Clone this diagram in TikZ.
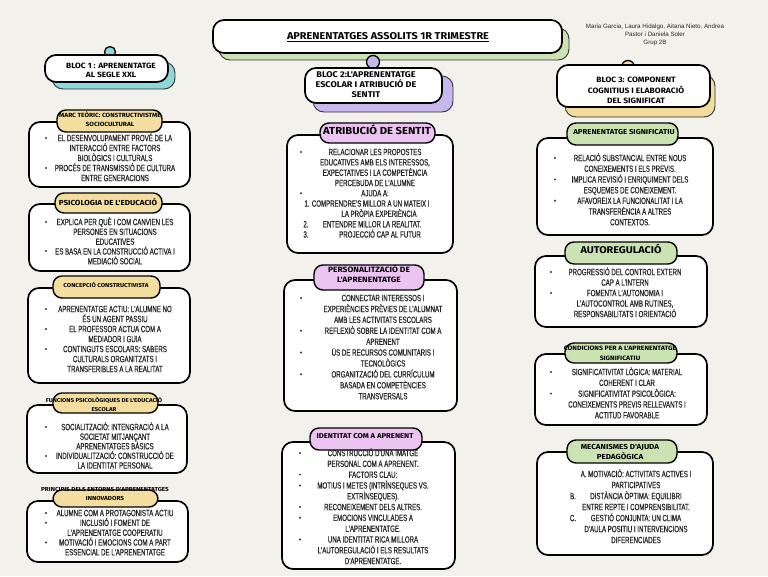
\documentclass[tikz,border=0pt]{standalone}
\usepackage{fontspec}
\setmainfont{Liberation Sans}
\newfontfamily\bodyf{Liberation Sans}[FakeStretch=0.68,FakeBold=0.5]
\newfontfamily\handf{Fira Sans}[FakeStretch=1.1]
\newfontfamily\authf{Liberation Sans}
\definecolor{cBg}{RGB}{243,241,236}
\definecolor{cYel}{RGB}{243,222,160}
\definecolor{cYelB}{RGB}{242,220,155}
\definecolor{cTeal}{RGB}{143,216,216}
\definecolor{cPink}{RGB}{236,196,241}
\definecolor{cLav}{RGB}{198,184,236}
\definecolor{cGrn}{RGB}{203,227,179}
\tikzset{
  card/.style={draw=black, line width=1.7pt, fill=white, rounded corners=11pt},
  pill/.style={draw=black, line width=1.4pt, rounded corners=9pt},
  shad/.style={draw=black!80, line width=0.9pt, rounded corners=11pt},
  knob/.style={draw=black, line width=1.3pt},
  body/.style={font=\bodyf\fontsize{9}{10}\selectfont, inner sep=0pt, text height=6.3pt, text depth=0pt, text=black!85},
  hs/.style={font=\handf\bfseries\fontsize{#1}{#1}\selectfont, inner sep=0pt, anchor=mid, text=black},
}
\newcommand{\blk}[6]{\foreach \t [count=\i from 0] in {#6} {\node[#5] (#1\i) at (#2,{#3+\i*#4}) {\t};}}
\newcommand{\bul}[2]{\fill[black!80] (#1,#2) circle (1.1pt);}
\begin{document}
\begin{tikzpicture}[x=1pt,y=-1pt]
\fill[cBg] (0,0) rectangle (768,576);
\useasboundingbox (0,0) rectangle (768,576);

% title
\draw[shad, fill=cGrn] (219,28) rectangle (569,60);
\draw[card] (213,20) rectangle (562,53);
\node[hs=9.9] (title) at (388,37) {\underline{APRENENTATGES ASSOLITS 1R TRIMESTRE}};
\node[font=\authf\fontsize{6.2}{8}\selectfont, align=center, text=black!85, inner sep=0pt] (auth) at (655,35) {Maria Garcia, Laura Hidalgo, Aitana Nieto, Andrea\\Pastor i Daniela Soler\\Grup 2B};

% ---------------- BLOC 1 ----------------
\draw[knob, fill=cTeal] (110,52) circle (5.5);
\draw[shad, fill=cTeal] (52,62) rectangle (175,89);
\draw[card] (45,55) rectangle (168,82);
\blk{bA}{111}{66}{8.5}{hs=7.6}{{BLOC 1 : APRENENTATGE},{AL SEGLE XXL}}

% marc
\draw[card] (29,122) rectangle (190,187);
\draw[pill, fill=cYel] (57,110) rectangle (162,132);
\blk{mH}{110}{115}{9}{hs=6}{{MARC TEÒRIC: CONSTRUCTIVISTME},{SOCIOCULTURAL}}
\blk{mT}{115}{138}{10}{body}{{EL DESENVOLUPAMENT PROVÉ DE LA},{INTERACCIÓ ENTRE FACTORS},{BIOLÒGICS I CULTURALS},{PROCÉS DE TRANSMISSIÓ DE CULTURA},{ENTRE GENERACIONS}}
\bul{46}{138}\bul{46}{168}

% psicologia
\draw[card] (29,204) rectangle (190,271);
\draw[pill, fill=cYel] (55,193) rectangle (162,213);
\node[hs=7.3] (pH) at (108,203) {PSICOLOGIA DE L'EDUCACIÓ};
\blk{pT}{115}{222}{9.8}{body}{{EXPLICA PER QUÈ I COM CANVIEN LES},{PERSONES EN SITUACIONS},{EDUCATIVES},{ES BASA EN LA CONSTRUCCIÓ ACTIVA I},{MEDIACIÓ SOCIAL}}
\bul{46}{222}\bul{46}{251}

% concepcio
\draw[card] (28,288) rectangle (190,383);
\draw[pill, fill=cYel] (53,276) rectangle (160,298);
\node[hs=5.7] (cH) at (106,285) {CONCEPCIÓ CONSTRUCTIVISTA};
\blk{cT}{115}{309}{10}{body}{{APRENENTATGE ACTIU: L'ALUMNE NO},{ÉS UN AGENT PASSIU},{EL PROFESSOR ACTUA COM A},{MEDIADOR I GUIA},{CONTINGUTS ESCOLARS: SABERS},{CULTURALS ORGANITZATS I},{TRANSFERIBLES A LA REALITAT}}
\bul{46}{309}\bul{46}{329}\bul{46}{349}

% funcions
\draw[card] (27,405) rectangle (187,473);
\draw[pill, fill=cYel] (53,393) rectangle (158,413);
\blk{fH}{104}{400}{8.5}{hs=5.6}{{FUNCIONS PSICOLÒGIQUES DE L'EDUCACIÓ},{ESCOLAR}}
\blk{fT}{115}{427}{9.6}{body}{{SOCIALITZACIÓ:  INTENGRACIÓ A LA},{SOCIETAT MITJANÇANT},{APRENENTATGES BÀSICS},{INDIVIDUALITZACIÓ: CONSTRUCCIÓ DE},{LA IDENTITAT PERSONAL}}
\bul{46}{427}\bul{46}{456}

% principis
\draw[card] (27,501) rectangle (188,562);
\draw[pill, fill=cYel] (53,490) rectangle (158,507);
\blk{prH}{105}{489}{9}{hs=5.8}{{PRINCIPIS DELS ENTORNS D'APRENENTATGES},{INNOVADORS}}
\blk{prT}{115}{513}{9.8}{body}{{ALUMNE COM A PROTAGONISTA ACTIU},{INCLUSIÓ I FOMENT DE},{L'APRENENTATGE COOPERATIU},{MOTIVACIÓ I EMOCIONS COM A PART},{ESSENCIAL DE L'APRENENTATGE}}
\bul{46}{513}\bul{46}{522.8}\bul{46}{542.4}

% ---------------- BLOC 2 ----------------
\draw[knob, fill=cLav] (373,62) circle (6.5);
\draw[shad, fill=cLav] (313,76) rectangle (453,112);
\draw[card] (305,68) rectangle (442,103);
\blk{bB}{366}{75}{10}{hs=8.3}{{BLOC 2:L'APRENENTATGE},{ESCOLAR I ATRIBUCIÓ DE},{SENTIT}}

% atribucio
\draw[card] (287,135) rectangle (453,253);
\draw[pill, fill=cPink] (320,123) rectangle (435,143);
\node[hs=10.2] (aH) at (377,132) {ATRIBUCIÓ DE SENTIT};
\blk{aT}{375}{152}{10.3}{body}{{RELACIONAR LES PROPOSTES},{EDUCATIVES AMB ELS INTERESSOS,},{EXPECTATIVES I LA COMPETÈNCIA},{PERCEBUDA DE L'ALUMNE},{AJUDA A:}}
\blk{aN}{367}{203.5}{10.3}{body}{{1. COMPRENDRE'S MILLOR A UN MATEIX I},{\hspace*{24pt}LA PRÒPIA EXPERIÈNCIA},{\hspace*{10pt}ENTENDRE MILLOR LA REALITAT.},{\hspace*{26pt}PROJECCIÓ CAP AL FUTUR}}
\node[body] (a2) at (306,224.1) {2.};
\node[body] (a3) at (306,234.4) {3.};
\bul{301}{152}\bul{301}{193.2}

% personalitzacio
\draw[card] (284,280) rectangle (457,411);
\draw[pill, fill=cPink] (314,265) rectangle (424,290);
\blk{peH}{369}{270}{10}{hs=7.7}{{PERSONALITZACIÓ DE},{L'APRENENTATGE}}
\blk{peT}{383}{298}{10.9}{body}{{CONNECTAR INTERESSOS I},{EXPERIÈNCIES PRÈVIES DE L'ALUMNAT},{AMB LES ACTIVITATS ESCOLARS},{REFLEXIÓ SOBRE LA IDENTITAT COM A},{APRENENT},{ÚS DE RECURSOS COMUNITARIS I},{TECNOLÒGICS},{ORGANITZACIÓ DEL CURRÍCULUM},{BASADA EN COMPETÈNCIES},{TRANSVERSALS}}
\bul{301}{298}\bul{301}{330.7}\bul{301}{352.5}\bul{301}{374.3}

% identitat
\draw[card] (282,442) rectangle (455,569);
\draw[pill, fill=cPink] (310,428) rectangle (422,450);
\node[hs=7] (iH) at (365,436) {IDENTITAT COM A APRENENT};
\blk{iT}{373}{453}{10.8}{body}{{CONSTRUCCIÓ D'UNA IMATGE},{PERSONAL COM A APRENENT.},{FACTORS CLAU:},{MOTIUS I METES (INTRÍNSEQUES VS.},{EXTRÍNSEQUES).},{RECONEIXEMENT DELS ALTRES.},{EMOCIONS VINCULADES A},{L'APRENENTATGE.},{UNA IDENTITAT RICA MILLORA},{L'AUTOREGULACIÓ I ELS RESULTATS},{D'APRENENTATGE.}}
\bul{300}{453}\bul{300}{474.6}\bul{300}{485.4}\bul{300}{507}\bul{300}{517.8}\bul{300}{539.4}

% ---------------- BLOC 3 ----------------
\draw[knob, fill=cYelB] (628,67) circle (6.5);
\draw[shad, fill=cYelB] (565,75) rectangle (715,117);
\draw[card] (557,65) rectangle (710,107);
\blk{bC}{636}{80}{10.5}{hs=7.7}{{BLOC 3: COMPONENT},{COGNITIUS I ELABORACIÓ},{DEL SIGNIFICAT}}

% aprenentatge significatiu
\draw[card] (537,138) rectangle (713,235);
\draw[pill, fill=cGrn] (567,123) rectangle (678,145);
\node[hs=7.1] (sH) at (624,132) {APRENENTATGE SIGNIFICATIU};
\blk{sT}{630}{158}{10.7}{body}{{RELACIÓ SUBSTANCIAL ENTRE NOUS},{CONEIXEMENTS I ELS PREVIS.},{IMPLICA REVISIÓ I ENRIQUIMENT DELS},{ESQUEMES DE CONEIXEMENT.},{AFAVOREIX LA FUNCIONALITAT I LA},{TRANSFERÈNCIA A ALTRES},{CONTEXTOS.}}
\bul{555}{158}\bul{555}{179.4}\bul{555}{200.8}

% autoregulacio
\draw[card] (535,256) rectangle (707,327);
\draw[pill, fill=cGrn] (565,242) rectangle (677,264);
\node[hs=9.8] (rH) at (621,251) {AUTOREGULACIÓ};
\blk{rT}{625}{272}{10.5}{body}{{PROGRESSIÓ DEL CONTROL EXTERN},{CAP A L'INTERN},{FOMENTA L'AUTONOMIA I},{L'AUTOCONTROL AMB RUTINES,},{RESPONSABILITATS I ORIENTACIÓ}}
\bul{551}{272}\bul{551}{293}

% condicions
\draw[card] (535,354) rectangle (707,425);
\draw[pill, fill=cGrn] (565,343) rectangle (677,363);
\blk{coH}{620}{348}{10}{hs=6.3}{{CONDICIONS PER A L'APRENENTATGE},{SIGNIFICATIU}}
\blk{coT}{627}{372}{10.8}{body}{{SIGNIFICATIVITAT LÒGICA: MATERIAL},{COHERENT I CLAR},{SIGNIFICATIVITAT PSICOLÒGICA:},{CONEIXEMENTS PREVIS RELLEVANTS I},{ACTITUD FAVORABLE}}
\bul{551}{372}\bul{551}{393.6}

% mecanismes
\draw[card] (537,452) rectangle (713,555);
\draw[pill, fill=cGrn] (567,440) rectangle (677,463);
\blk{meH}{620}{447}{10}{hs=7.3}{{MECANISMES D'AJUDA},{PEDAGÒGICA}}
\blk{meT}{636}{474}{11}{body}{{A. MOTIVACIÓ: ACTIVITATS ACTIVES I},{PARTICIPATIVES},{DISTÀNCIA ÒPTIMA: EQUILIBRI},{ENTRE REPTE I COMPRENSIBILITAT.},{GESTIÓ CONJUNTA: UN CLIMA},{D'AULA POSITIU I INTERVENCIONS},{DIFERENCIADES}}
\node[body] (mB) at (573,496) {B.};
\node[body] (mC) at (573,518) {C.};
\end{tikzpicture}
\end{document}
